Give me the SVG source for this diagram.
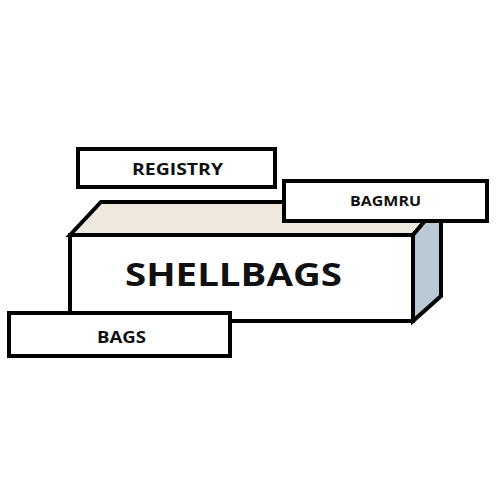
<svg xmlns="http://www.w3.org/2000/svg" width="500" height="500" viewBox="0 0 500 500">
<style>
.ln{stroke:#000;stroke-width:4;stroke-linejoin:miter}
.box{fill:#fff;stroke:#000;stroke-width:4}
.t{font-family:"Open Sans",Lato,sans-serif;font-weight:bold;fill:#111;text-anchor:middle;dominant-baseline:central}
</style>
<rect width="500" height="500" fill="#fff"/>
<g id="shellbags">
<polygon class="ln" points="70,235 101,202 441,202 413,235" fill="#efe8df"/>
<polygon class="ln" points="413,235 441,202 441,296 413,321" fill="#b9c9d6"/>
<rect class="box" x="70" y="235" width="343" height="86"/>
<text class="t" x="233.5" y="273" font-size="33" textLength="217" lengthAdjust="spacingAndGlyphs">SHELLBAGS</text>
</g>
<g id="registry">
<rect class="box" x="78" y="149" width="197" height="38"/>
<text class="t" x="177.5" y="168" font-size="16.5" textLength="91" lengthAdjust="spacingAndGlyphs">REGISTRY</text>
</g>
<g id="bagmru">
<rect class="box" x="284" y="181" width="203" height="40"/>
<text class="t" x="385.5" y="200" font-size="14" textLength="71" lengthAdjust="spacingAndGlyphs">BAGMRU</text>
</g>
<g id="bags">
<rect class="box" x="9" y="313" width="221" height="43"/>
<text class="t" x="121.5" y="337" font-size="15.5" textLength="49" lengthAdjust="spacingAndGlyphs">BAGS</text>
</g>
</svg>
